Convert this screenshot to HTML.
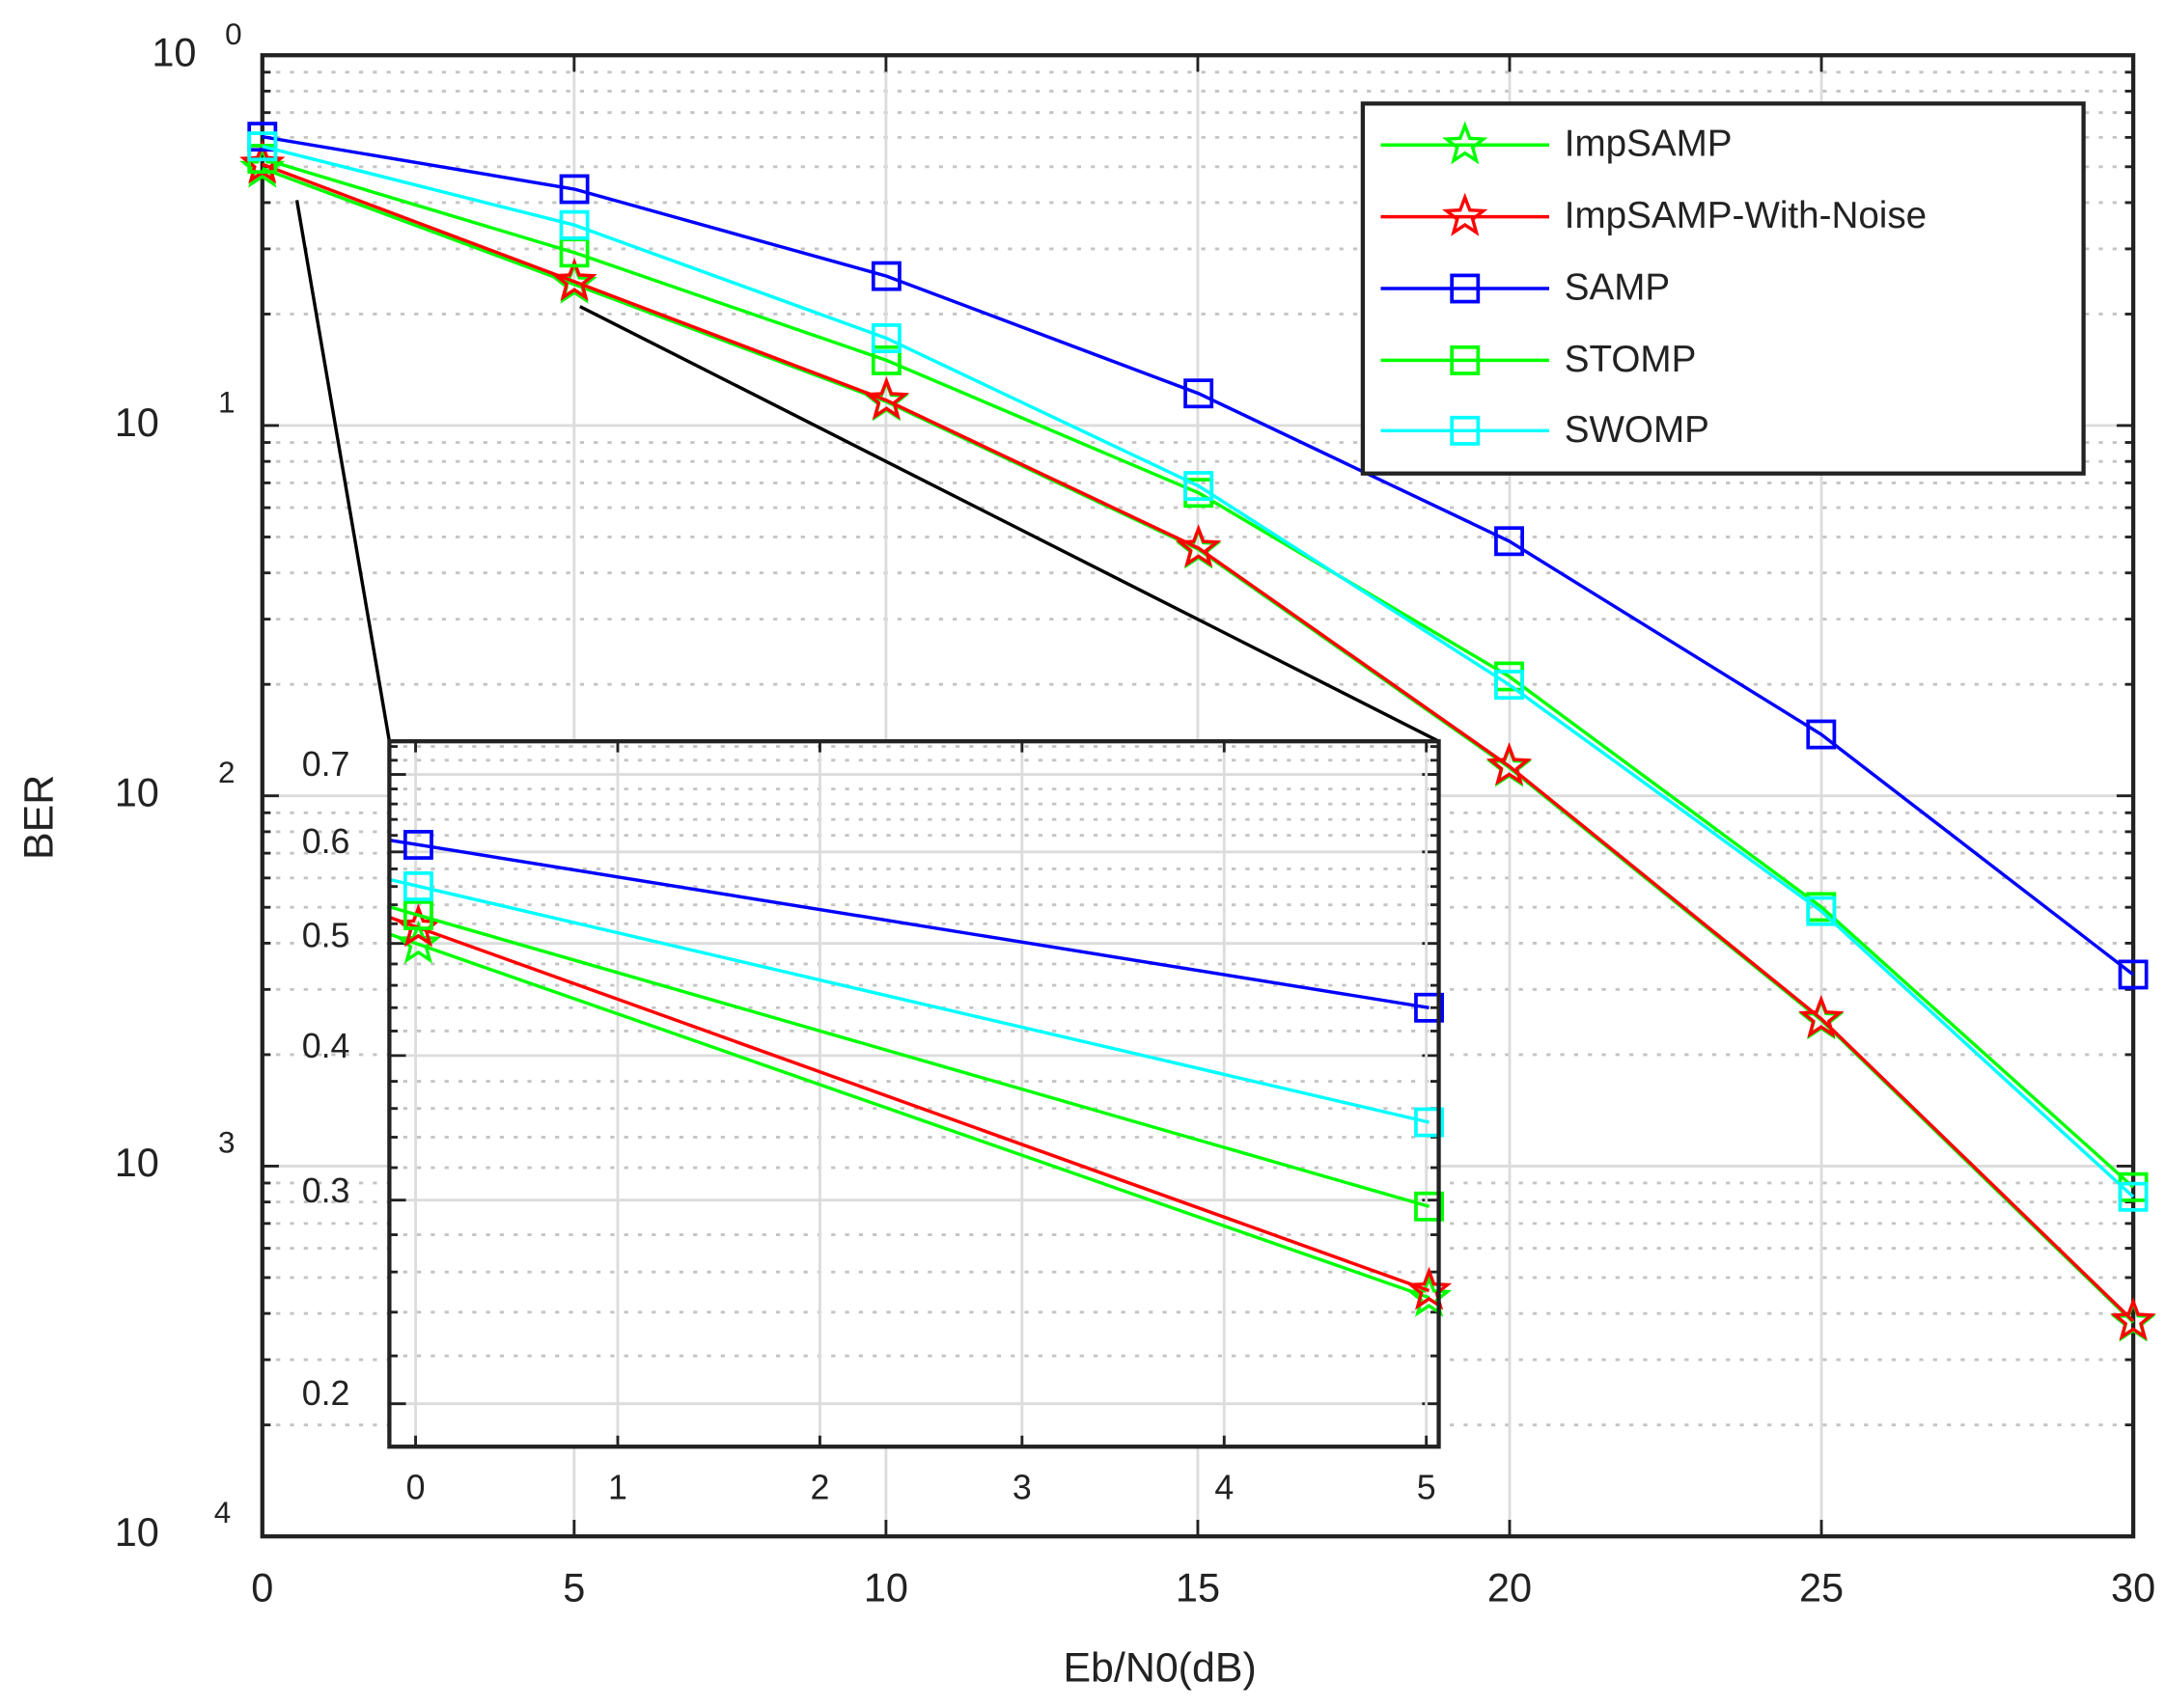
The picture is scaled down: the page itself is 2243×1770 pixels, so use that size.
<!DOCTYPE html>
<html><head><meta charset="utf-8"><style>
html,body{margin:0;padding:0;background:#fff;}
svg{display:block;}
text{font-family:"Liberation Sans",Arial,sans-serif;fill:#222;}
</style></head><body>
<svg id="s" width="2243" height="1770" viewBox="0 0 1568 1237.3" xmlns="http://www.w3.org/2000/svg">
<rect width="1568" height="1238" fill="#fff"/>
<g id="g"></g>
</svg>
<script>
var NS="http://www.w3.org/2000/svg",g=document.getElementById('g');
function el(t,a,txt){var e=document.createElementNS(NS,t);for(var k in a)e.setAttribute(k,a[k]);if(txt!==undefined)e.textContent=txt;g.appendChild(e);return e;}
function line(x1,y1,x2,y2,st,w,da){var a={x1:x1,y1:y1,x2:x2,y2:y2,stroke:st,'stroke-width':w};if(da)a['stroke-dasharray']=da;return el('line',a);}
var L=190,R=1545,T=40,B=1113;
function X(v){return L+(R-L)*v/30;}
function Y(v){return T+(B-T)*(-Math.log10(v))/4;}
for(var d=0;d<4;d++){for(var m=2;m<=9;m++){var y=Y(m*Math.pow(10,-d-1));line(L,y,R,y,'#c4c4c4',2,'3,7');line(L,y,L+6,y,'#222',2);line(R,y,R-6,y,'#222',2);}}
for(var d=1;d<4;d++){var y=Y(Math.pow(10,-d));line(L,y,R,y,'#dcdcdc',2);line(L,y,L+12,y,'#222',2);line(R,y,R-12,y,'#222',2);}
for(var v=5;v<30;v+=5){var x=X(v);line(x,T,x,B,'#dcdcdc',2);line(x,B,x,B-12,'#222',2);line(x,T,x,T+12,'#222',2);}
el('rect',{x:L,y:T,width:R-L,height:B-T,fill:'none',stroke:'#222','stroke-width':3});
for(var v=0;v<=30;v+=5){el('text',{x:X(v),y:1160,'font-size':29,'text-anchor':'middle'},''+v);}
var yl=[[110,38,163,26],[83,306,158,293],[83,574,158,561],[83,842,158,829],[83,1110,155,1097]];
for(var i=0;i<5;i++){el('text',{x:yl[i][0],y:yl[i][1]+10,'font-size':29},'10');el('text',{x:yl[i][2],y:yl[i][3]+6,'font-size':22},''+i);}
el('text',{x:840,y:1218,'font-size':30,'text-anchor':'middle'},'Eb/N0(dB)');
el('text',{x:0,y:0,'font-size':30,'text-anchor':'middle',transform:'translate(38,592) rotate(-90)'},'BER');
function star(x,y,r,c){var p=[];for(var k=0;k<10;k++){var a=-Math.PI/2+k*Math.PI/5,rr=k%2?r*0.42:r;p.push((x+rr*Math.cos(a)).toFixed(1)+','+(y+rr*Math.sin(a)).toFixed(1));}el('polygon',{points:p.join(' '),fill:'none',stroke:c,'stroke-width':2.4});}
function sq(x,y,c){el('rect',{x:x-9.5,y:y-9.5,width:19,height:19,fill:'none',stroke:c,'stroke-width':2.6});}
function series(pts,c,mk){el('polyline',{points:pts.map(function(p){return p.join(',')}).join(' '),fill:'none',stroke:c,'stroke-width':2.4});pts.forEach(function(p){mk=='s'?sq(p[0],p[1],c):star(p[0],p[1],14,c);});}
var xs=[190,416,642,868,1093,1319,1545];
function P(ys){return ys.map(function(y,i){return [xs[i],y];});}
series(P([122,206,291,398,556,739,958]),'#00ff00','*');
series(P([119,204,290,397,555,738,957]),'#ff0000','*');
series(P([99,137,200,285,392,532,706]),'#0000ff','s');
series(P([115,183,261,357,490,657,860]),'#00ff00','s');
series(P([106,163,245,352,496,660,867]),'#00ffff','s');
line(215,145,282,537,'#000',2.4);line(420,222,1042,537,'#000',2.4);
var iL=282,iR=1042,iT=537,iB=1048;
el('rect',{x:iL,y:iT,width:iR-iL,height:iB-iT,fill:'#fff'});
function IX(v){return 301+146.4*v;}
function IY(v){return 561+838*Math.log10(0.7/v);}
for(var k=18;k<=74;k+=2){var v=k/100;var y=IY(v);if(y<iT+2||y>iB-2)continue;if(k%10==0){line(iL,y,iR,y,'#dcdcdc',2);line(iL,y,iL+12,y,'#222',2);line(iR,y,iR-12,y,'#222',2);}else{line(iL,y,iR,y,'#c4c4c4',2,'3,7');line(iL,y,iL+6,y,'#222',2);line(iR,y,iR-6,y,'#222',2);}}
for(var v=0;v<=5;v++){var x=IX(v);line(x,iT,x,iB,'#dcdcdc',2);line(x,iB,x,iB-8,'#222',2);line(x,iT,x,iT+8,'#222',2);el('text',{x:x,y:1086,'font-size':25,'text-anchor':'middle'},''+v);}
[[0.7,553],[0.6,609],[0.5,677],[0.4,757],[0.3,862],[0.2,1009]].forEach(function(a){el('text',{x:236,y:a[1]+9,'font-size':25,'text-anchor':'middle'},a[0].toFixed(1));});
function iseries(y0,y1,c,mk){var ya=y0-(y1-y0)*(303-iL)/(1035-303);el('polyline',{points:iL+','+ya+' 303,'+y0+' 1035,'+y1,fill:'none',stroke:c,'stroke-width':2.4});[[303,y0],[1035,y1]].forEach(function(p){mk=='s'?sq(p[0],p[1],c):star(p[0],p[1],14,c);});}
iseries(684,940,'#00ff00','*');
iseries(672,935,'#ff0000','*');
iseries(612,730,'#0000ff','s');
iseries(663,874,'#00ff00','s');
iseries(642,813,'#00ffff','s');
el('rect',{x:iL,y:iT,width:iR-iL,height:iB-iT,fill:'none',stroke:'#222','stroke-width':3});
el('rect',{x:987,y:75,width:522,height:268,fill:'#fff',stroke:'#222','stroke-width':3});
var lg=[['ImpSAMP','#00ff00','*'],['ImpSAMP-With-Noise','#ff0000','*'],['SAMP','#0000ff','s'],['STOMP','#00ff00','s'],['SWOMP','#00ffff','s']];
var ly=[105,157,209,261,312];
lg.forEach(function(a,i){line(1000,ly[i],1122,ly[i],a[1],2.4);a[2]=='s'?sq(1061,ly[i],a[1]):star(1061,ly[i],14,a[1]);el('text',{x:1133,y:ly[i]+8,'font-size':27},a[0]);});
</script>
</body></html>
